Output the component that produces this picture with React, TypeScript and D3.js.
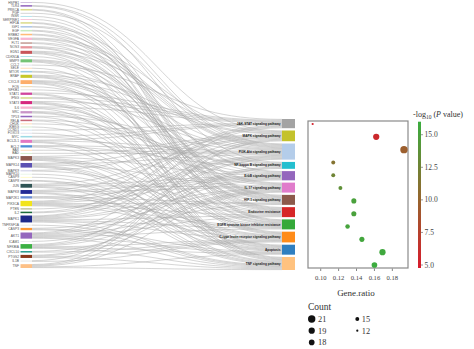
import React from 'react';
import * as d3 from 'd3';

const pathways = [
  'JAK-STAT signaling pathway',
  'MAPK signaling pathway',
  'PI3K-Akt signaling pathway',
  'NF-kappa B signaling pathway',
  'ErbB signaling pathway',
  'IL-17 signaling pathway',
  'HIF-1 signaling pathway',
  'Endocrine resistance',
  'EGFR tyrosine kinase inhibitor resistance',
  'C-type lectin receptor signaling pathway',
  'Apoptosis',
  'TNF signaling pathway',
];
const pathwayColors = ['#a3a3a3', '#c4c22c', '#b4cdea', '#25bfcf', '#9467bd', '#e07ccb', '#8c5a4b', '#d62728', '#35a93a', '#ff8c1a', '#2f7fc0', '#ffc27f'];

const geneNames = ['HSPB1', 'TLR4', 'PRKCA', 'PGF', 'INSR', 'SERPINE1', 'HIF1A', 'IGF1', 'EGF', 'ERBB2', 'VEGFA', 'FLT1', 'NOS3', 'EDN1', 'CDKN1A', 'MMP9', 'CCL2', 'SELE', 'MTOR', 'BRAF', 'CXCL8', 'FOS', 'NFKB1', 'STAT1', 'IFNG', 'STAT3', 'IL6', 'SRC', 'TP53', 'RELA', 'CHUK', 'IKBKG', 'CCND1', 'FOXO3', 'MYC', 'BCL2L1', 'BCL2', 'BAX', 'BAD', 'MAPK3', 'MAPK14', 'MAPK9', 'MAPK10', 'CASP9', 'CASP8', 'JUN', 'MAPK8', 'MAP2K1', 'PIK3CA', 'PTEN', 'IL2', 'MAPK1', 'TNFRSF1A', 'CASP3', 'AKT1', 'ICAM1', 'NFKBIA', 'CXCL10', 'PTGS2', 'IL1B', 'TNF'];
const geneColors = ['#c5b0d5', '#9467bd', '#dbdb8d', '#c7c7c7', '#9edae5', '#f7b6d2', '#dbdb8d', '#aec7e8', '#c7e9c0', '#ffbb78', '#f7b6d2', '#c49c94', '#e7969c', '#c8565b', '#9edae5', '#74c476', '#dadaeb', '#fdd0a2', '#9ecae1', '#c8c829', '#fdae6b', '#e7cb94', '#d9d9d9', '#d0459e', '#d4d98d', '#d6287f', '#f7b6d2', '#c994c7', '#9467bd', '#c86b7b', '#fdd0a2', '#c7e9c0', '#c6dbef', '#dadaeb', '#9edae5', '#e377c2', '#4f8fd6', '#fdd0a2', '#c7e9c0', '#8c564b', '#5b51b3', '#dadaeb', '#e5f5e0', '#fff7bc', '#b0b0b0', '#2f5454', '#232a96', '#6b8fd6', '#f2e41b', '#8c8c3b', '#1b6b3a', '#1f2a8a', '#e6e6e6', '#ff9933', '#9467bd', '#e8e8e8', '#3cb043', '#2a9d8f', '#8c3b1e', '#eeeeee', '#fdc086'];
const genePathways = [
  [1], [2, 3], [6, 8], [2], [6], [6], [6, 8], [2, 7], [4, 8], [4, 7],
  [1, 2, 6], [2, 6], [2, 6, 7], [1, 5, 6, 11], [7], [3, 5, 7, 11], [0], [9], [2, 8], [1, 4, 7, 8],
  [1, 3, 5, 9, 11], [6], [2], [0, 9, 11], [0, 2], [0, 6, 8, 9], [0, 5, 11], [4, 7, 8], [2, 10], [3, 10],
  [3], [10], [0], [7], [0, 4], [0, 2, 8, 10], [2, 3, 10], [2], [2], [1, 4, 7, 8, 9, 11],
  [1, 2, 5, 9, 10, 11], [1, 7], [9], [10], [10, 11], [1, 4, 5, 9, 11], [1, 4, 5, 10, 11], [4, 6, 8], [0, 2, 4, 6, 7, 8, 9], [2],
  [0, 2], [0, 1, 2, 4, 5, 7, 8, 9, 11], [11], [5, 10, 11], [0, 2, 4, 6, 7, 8, 10, 11], [2], [1, 3, 5, 9, 10, 11], [5, 9], [3, 5, 9, 11], [1, 9],
  [1, 3, 5, 10, 11],
];

const geneRatio = [0.091, 0.162, 0.193, 0.114, 0.114, 0.122, 0.137, 0.137, 0.130, 0.146, 0.169, 0.160];
const geneCount = [12, 19, 21, 15, 15, 15, 17, 17, 16, 17, 19, 18];
const negLogP = [5.2, 5.8, 9.6, 11.2, 12.6, 13.6, 15.0, 15.0, 15.2, 15.4, 15.6, 15.9];

const ratioTicks = [0.10, 0.12, 0.14, 0.16, 0.18];
const colorTicks = [5.0, 7.5, 10.0, 12.5, 15.0];
const legendCounts = [21, 19, 18, 15, 12];

const SERIF = '"Liberation Serif", "DejaVu Serif", serif';
const SANS = '"Liberation Sans", Arial, sans-serif';

export default function App() {
  // ---------- Sankey layout ----------
  const L = { x0: 20.5, x1: 32, y0: 2, y1: 268 };
  const R = { x0: 282, x1: 295, y0: 119, y1: 270 };
  const padR = 2.3;
  const totalLinks = d3.sum(genePathways, (p) => p.length);
  const ky = (R.y1 - R.y0 - (pathways.length - 1) * padR) / totalLinks;
  const padL = (L.y1 - L.y0 - totalLinks * ky) / (geneNames.length - 1);

  const geneNodes: { y0: number; y1: number }[] = [];
  let cy = L.y0;
  geneNames.forEach((_, i) => {
    const h = genePathways[i].length * ky;
    geneNodes.push({ y0: cy, y1: cy + h });
    cy += h + padL;
  });
  const pathCounts = pathways.map((_, j) => genePathways.filter((p) => p.includes(j)).length);
  const pathNodes: { y0: number; y1: number }[] = [];
  cy = R.y0;
  pathways.forEach((_, j) => {
    const h = pathCounts[j] * ky;
    pathNodes.push({ y0: cy, y1: cy + h });
    cy += h + padR;
  });

  const links: { s: [number, number]; t: [number, number] }[] = [];
  const srcOff = geneNodes.map((n) => n.y0);
  const tgtOff = pathNodes.map((n) => n.y0);
  const tgtPos: Record<string, number> = {};
  pathways.forEach((_, j) => {
    genePathways.forEach((p, i) => {
      if (p.includes(j)) {
        tgtPos[i + '-' + j] = tgtOff[j] + ky / 2;
        tgtOff[j] += ky;
      }
    });
  });
  genePathways.forEach((p, i) => {
    [...p].sort((a, b) => a - b).forEach((j) => {
      const sy = srcOff[i] + ky / 2;
      srcOff[i] += ky;
      links.push({ s: [L.x1, sy], t: [R.x0, tgtPos[i + '-' + j]] });
    });
  });
  const linkGen = d3.linkHorizontal<any, any>().source((d: any) => d.s).target((d: any) => d.t);

  // ---------- Dot plot ----------
  const box = { x0: 308, x1: 408, y0: 121, y1: 268 };
  const xScale = d3.scaleLinear().domain([0.0858, 0.1975]).range([box.x0, box.x1]);
  const yScale = d3.scalePoint<string>().domain(pathways).range([124, 265]);
  const rScale = d3.scaleLinear().domain([12, 21]).range([1.1, 3.7]);
  const cDomain = [4.77, 10.2, 16.0];
  const cRange = ['#d81b2c', '#94672e', '#3aad3f'];
  const cScale = d3.scaleLinear<string>().domain(cDomain).range(cRange);
  const cbar = { x0: 418, x1: 421, y0: 121.7, y1: 268 };
  const cbY = d3.scaleLinear().domain([cDomain[0], cDomain[2]]).range([cbar.y1, cbar.y0]);

  const legendItems = legendCounts.map((c, i) => ({
    c,
    col: i < 3 ? 0 : 1,
    row: i < 3 ? i : i - 3,
  }));

  return (
    <svg width={474} height={349} style={{ position: 'absolute', left: 0, top: 0, background: '#fff' }}>
      <defs>
        <linearGradient id="cbg" x1="0" y1="1" x2="0" y2="0">
          {cDomain.map((d, i) => (
            <stop key={i} offset={(d - cDomain[0]) / (cDomain[2] - cDomain[0])} stopColor={cRange[i]} />
          ))}
        </linearGradient>
      </defs>
      {/* links */}
      <g fill="none" stroke="#a8a8a8" strokeOpacity={0.5}>
        {links.map((l, i) => (
          <path key={i} d={linkGen(l) as string} strokeWidth={ky * 1.25} />
        ))}
      </g>
      {/* gene nodes */}
      {geneNodes.map((n, i) => (
        <g key={i}>
          <rect x={L.x0} y={n.y0} width={L.x1 - L.x0} height={Math.max(n.y1 - n.y0, 0.6)} fill={geneColors[i]} />
          <text x={L.x0 - 1.5} y={(n.y0 + n.y1) / 2} dy="0.35em" textAnchor="end" fontSize={3.3} fontFamily={SANS} fill="#555">
            {geneNames[i]}
          </text>
        </g>
      ))}
      {/* pathway nodes */}
      {pathNodes.map((n, j) => (
        <g key={j}>
          <rect x={R.x0} y={n.y0} width={R.x1 - R.x0} height={n.y1 - n.y0} fill={pathwayColors[j]} />
          <text x={R.x0 - 1.5} y={(n.y0 + n.y1) / 2} dy="0.35em" textAnchor="end" fontSize={3.2} fontWeight={600} fontFamily={SANS} fill="#222">
            {pathways[j]}
          </text>
        </g>
      ))}
      {/* dot plot */}
      <rect x={box.x0} y={box.y0} width={box.x1 - box.x0} height={box.y1 - box.y0} fill="#fff" stroke="#8a8a8a" strokeWidth={1.2} />
      {pathways.map((p, j) => (
        <circle key={p} cx={xScale(geneRatio[j])} cy={yScale(p)} r={rScale(geneCount[j])} fill={cScale(negLogP[j])} />
      ))}
      {ratioTicks.map((t) => (
        <g key={t} transform={`translate(${xScale(t)},${box.y1})`}>
          <line y1={0.6} y2={3} stroke="#666" strokeWidth={0.8} />
          <text y={11.5} textAnchor="middle" fontSize={6.6} fontFamily={SERIF} fill="#444">
            {t.toFixed(2)}
          </text>
        </g>
      ))}
      <text x={356} y={296} textAnchor="middle" fontSize={9} fontFamily={SERIF} fill="#333">
        Gene.ratio
      </text>
      {/* size legend */}
      <text x={308} y={310} fontSize={9.5} fontFamily={SERIF} fill="#333">
        Count
      </text>
      {legendItems.map((it) => (
        <g key={it.c} transform={`translate(${it.col === 0 ? 311.7 : 357.3},${319 + it.row * 11.7})`}>
          <circle r={rScale(it.c)} fill="#111" />
          <text x={it.col === 0 ? 6.3 : 4.5} dy="0.35em" fontSize={8.3} fontFamily={SERIF} fill="#333">
            {it.c}
          </text>
        </g>
      ))}
      {/* color bar */}
      <text x={413} y={117} fontSize={8} fontFamily={SERIF} fill="#333">
        -log
        <tspan fontSize={5.5} dy={2}>10</tspan>
        <tspan dy={-2}> (</tspan>
        <tspan fontStyle="italic">P</tspan>
        <tspan> value)</tspan>
      </text>
      <rect x={cbar.x0} y={cbar.y0} width={cbar.x1 - cbar.x0} height={cbar.y1 - cbar.y0} fill="url(#cbg)" />
      {colorTicks.map((t) => (
        <g key={t} transform={`translate(${cbar.x1},${cbY(t)})`}>
          <line x1={0} x2={2} stroke="#555" strokeWidth={0.6} />
          <text x={3.5} dy="0.35em" fontSize={7.5} fontFamily={SERIF} fill="#444">
            {t.toFixed(1)}
          </text>
        </g>
      ))}
    </svg>
  );
}
